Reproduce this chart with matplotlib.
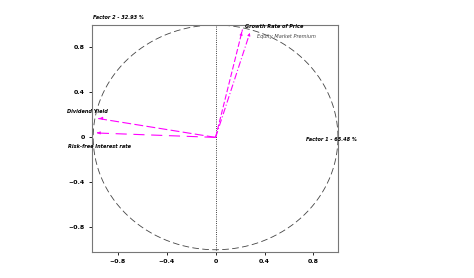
import numpy as np
import matplotlib.pyplot as plt

# variable loadings on the two factors
names = ["Growth Rate of Price", "Equity Market Premium", "Dividend Yield", "Risk-free Interest rate"]
f1 = [0.22, 0.28, -0.97, -0.99]
f2 = [0.96, 0.93, 0.17, 0.04]
styles = [(0, (5, 2)), (0, (6, 2, 1, 2)), (0, (8, 3)), (0, (10, 6))]

ticks = [-0.8, -0.4, 0, 0.4, 0.8]
tick_labels = ["\u22120.8", "\u22120.4", "0", "0.4", "0.8"]

fig = plt.figure(figsize=(4.74, 2.78), dpi=100)
ax = fig.add_axes([0.194, 0.0935, 0.519, 0.8165])

t = np.linspace(0, 2 * np.pi, 400)
ax.plot(np.cos(t), np.sin(t), color="#444444", lw=0.6, ls=(0, (8, 4)))
ax.plot([0, 0], [-1, 1], color="black", lw=0.6, ls=":")

for x, y, ls in zip(f1, f2, styles):
    ax.plot([0, x], [0, y], color="magenta", lw=0.8, ls=ls)
    ax.annotate("", xy=(x, y), xytext=(x * 0.95, y * 0.95 if abs(y) > 0.5 else y),
                arrowprops=dict(arrowstyle="-|>", color="magenta", lw=0.6,
                                mutation_scale=4))

fs = 3.6
ax.text(f1[0] + 0.02, f2[0] + 0.005, names[0], fontsize=fs, fontstyle="italic",
        fontweight="bold", va="bottom")
ax.text(f1[1] + 0.06, f2[1] - 0.03, names[1], fontsize=fs, fontstyle="italic",
        color="#444444", va="center")
ax.text(-1.045, f2[2] + 0.06, names[2], fontsize=fs, fontstyle="italic",
        fontweight="bold", ha="center", va="center")
ax.text(-0.95, f2[3] - 0.12, names[3], fontsize=fs, fontstyle="italic",
        fontweight="bold", ha="center", va="center")

ax.text(0.74, -0.02, "Factor 1 - 65.48 %", fontsize=fs, fontstyle="italic",
        fontweight="bold", va="center")
ax.text(-1.0, 1.07, "Factor 2 - 32.93 %", fontsize=fs, fontstyle="italic",
        fontweight="bold", va="center")

ax.set_xlim(-1.01, 1.0)
ax.set_ylim(-1.02, 1.0)
ax.set_xticks(ticks)
ax.set_xticklabels(tick_labels)
ax.set_yticks(ticks)
ax.set_yticklabels(tick_labels)
ax.tick_params(labelsize=4.5, length=2, width=0.6, colors="black", pad=3)
for lab in ax.get_xticklabels() + ax.get_yticklabels():
    lab.set_fontweight("bold")
for s in ax.spines.values():
    s.set_color("#777777")
    s.set_linewidth(0.8)

fig.savefig("out.png", dpi=100)
